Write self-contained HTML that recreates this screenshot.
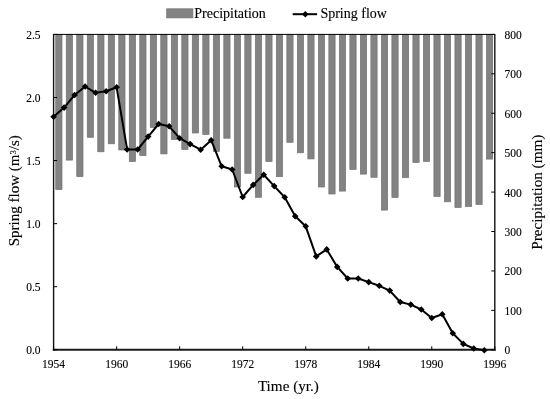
<!DOCTYPE html><html><head><meta charset="utf-8"><style>html,body{margin:0;padding:0;background:#fff;}svg{display:block;}text{font-family:"Liberation Serif","Times New Roman",serif;fill:#000;stroke:#000;stroke-width:0.12px;}</style></head><body>
<svg width="550" height="399" viewBox="0 0 550 399">
<rect x="0" y="0" width="550" height="399" fill="#fff"/>
<rect x="55.73" y="34.40" width="6.25" height="155.20" fill="#838383" stroke="#727272" stroke-width="0.7"/>
<rect x="66.23" y="34.40" width="6.25" height="125.70" fill="#838383" stroke="#727272" stroke-width="0.7"/>
<rect x="76.74" y="34.40" width="6.25" height="142.20" fill="#838383" stroke="#727272" stroke-width="0.7"/>
<rect x="87.24" y="34.40" width="6.25" height="102.90" fill="#838383" stroke="#727272" stroke-width="0.7"/>
<rect x="97.75" y="34.40" width="6.25" height="117.40" fill="#838383" stroke="#727272" stroke-width="0.7"/>
<rect x="108.25" y="34.40" width="6.25" height="109.40" fill="#838383" stroke="#727272" stroke-width="0.7"/>
<rect x="118.76" y="34.40" width="6.25" height="115.60" fill="#838383" stroke="#727272" stroke-width="0.7"/>
<rect x="129.26" y="34.40" width="6.25" height="127.10" fill="#838383" stroke="#727272" stroke-width="0.7"/>
<rect x="139.77" y="34.40" width="6.25" height="121.20" fill="#838383" stroke="#727272" stroke-width="0.7"/>
<rect x="150.27" y="34.40" width="6.25" height="93.10" fill="#838383" stroke="#727272" stroke-width="0.7"/>
<rect x="160.78" y="34.40" width="6.25" height="119.50" fill="#838383" stroke="#727272" stroke-width="0.7"/>
<rect x="171.28" y="34.40" width="6.25" height="105.00" fill="#838383" stroke="#727272" stroke-width="0.7"/>
<rect x="181.78" y="34.40" width="6.25" height="115.10" fill="#838383" stroke="#727272" stroke-width="0.7"/>
<rect x="192.29" y="34.40" width="6.25" height="98.60" fill="#838383" stroke="#727272" stroke-width="0.7"/>
<rect x="202.79" y="34.40" width="6.25" height="100.00" fill="#838383" stroke="#727272" stroke-width="0.7"/>
<rect x="213.30" y="34.40" width="6.25" height="117.00" fill="#838383" stroke="#727272" stroke-width="0.7"/>
<rect x="223.80" y="34.40" width="6.25" height="103.80" fill="#838383" stroke="#727272" stroke-width="0.7"/>
<rect x="234.31" y="34.40" width="6.25" height="152.60" fill="#838383" stroke="#727272" stroke-width="0.7"/>
<rect x="244.81" y="34.40" width="6.25" height="138.90" fill="#838383" stroke="#727272" stroke-width="0.7"/>
<rect x="255.32" y="34.40" width="6.25" height="162.90" fill="#838383" stroke="#727272" stroke-width="0.7"/>
<rect x="265.82" y="34.40" width="6.25" height="127.20" fill="#838383" stroke="#727272" stroke-width="0.7"/>
<rect x="276.33" y="34.40" width="6.25" height="142.30" fill="#838383" stroke="#727272" stroke-width="0.7"/>
<rect x="286.83" y="34.40" width="6.25" height="107.90" fill="#838383" stroke="#727272" stroke-width="0.7"/>
<rect x="297.34" y="34.40" width="6.25" height="118.40" fill="#838383" stroke="#727272" stroke-width="0.7"/>
<rect x="307.84" y="34.40" width="6.25" height="124.50" fill="#838383" stroke="#727272" stroke-width="0.7"/>
<rect x="318.35" y="34.40" width="6.25" height="152.60" fill="#838383" stroke="#727272" stroke-width="0.7"/>
<rect x="328.85" y="34.40" width="6.25" height="159.60" fill="#838383" stroke="#727272" stroke-width="0.7"/>
<rect x="339.36" y="34.40" width="6.25" height="156.70" fill="#838383" stroke="#727272" stroke-width="0.7"/>
<rect x="349.86" y="34.40" width="6.25" height="135.10" fill="#838383" stroke="#727272" stroke-width="0.7"/>
<rect x="360.37" y="34.40" width="6.25" height="139.70" fill="#838383" stroke="#727272" stroke-width="0.7"/>
<rect x="370.87" y="34.40" width="6.25" height="142.90" fill="#838383" stroke="#727272" stroke-width="0.7"/>
<rect x="381.38" y="34.40" width="6.25" height="175.70" fill="#838383" stroke="#727272" stroke-width="0.7"/>
<rect x="391.88" y="34.40" width="6.25" height="163.10" fill="#838383" stroke="#727272" stroke-width="0.7"/>
<rect x="402.38" y="34.40" width="6.25" height="143.30" fill="#838383" stroke="#727272" stroke-width="0.7"/>
<rect x="412.89" y="34.40" width="6.25" height="128.00" fill="#838383" stroke="#727272" stroke-width="0.7"/>
<rect x="423.39" y="34.40" width="6.25" height="127.00" fill="#838383" stroke="#727272" stroke-width="0.7"/>
<rect x="433.90" y="34.40" width="6.25" height="162.10" fill="#838383" stroke="#727272" stroke-width="0.7"/>
<rect x="444.40" y="34.40" width="6.25" height="167.40" fill="#838383" stroke="#727272" stroke-width="0.7"/>
<rect x="454.91" y="34.40" width="6.25" height="173.10" fill="#838383" stroke="#727272" stroke-width="0.7"/>
<rect x="465.41" y="34.40" width="6.25" height="172.10" fill="#838383" stroke="#727272" stroke-width="0.7"/>
<rect x="475.92" y="34.40" width="6.25" height="170.00" fill="#838383" stroke="#727272" stroke-width="0.7"/>
<rect x="486.42" y="34.40" width="6.25" height="124.70" fill="#838383" stroke="#727272" stroke-width="0.7"/>
<line x1="53.6" y1="34.4" x2="494.8" y2="34.4" stroke="#000" stroke-width="1"/>
<line x1="53.6" y1="33.9" x2="53.6" y2="350.7" stroke="#111" stroke-width="1.4"/>
<line x1="494.8" y1="33.9" x2="494.8" y2="350.7" stroke="#111" stroke-width="1.4"/>
<line x1="52.85" y1="349.8" x2="495.55" y2="349.8" stroke="#1a1a1a" stroke-width="2"/>
<line x1="53.6" y1="349.80" x2="57.1" y2="349.80" stroke="#000" stroke-width="1"/>
<text x="40.6" y="354.00" font-size="11.5" text-anchor="end">0.0</text>
<line x1="53.6" y1="286.72" x2="57.1" y2="286.72" stroke="#000" stroke-width="1"/>
<text x="40.6" y="290.92" font-size="11.5" text-anchor="end">0.5</text>
<line x1="53.6" y1="223.64" x2="57.1" y2="223.64" stroke="#000" stroke-width="1"/>
<text x="40.6" y="227.84" font-size="11.5" text-anchor="end">1.0</text>
<line x1="53.6" y1="160.56" x2="57.1" y2="160.56" stroke="#000" stroke-width="1"/>
<text x="40.6" y="164.76" font-size="11.5" text-anchor="end">1.5</text>
<line x1="53.6" y1="97.48" x2="57.1" y2="97.48" stroke="#000" stroke-width="1"/>
<text x="40.6" y="101.68" font-size="11.5" text-anchor="end">2.0</text>
<line x1="53.6" y1="34.40" x2="57.1" y2="34.40" stroke="#000" stroke-width="1"/>
<text x="40.6" y="38.60" font-size="11.5" text-anchor="end">2.5</text>
<line x1="491.3" y1="349.80" x2="494.8" y2="349.80" stroke="#000" stroke-width="1"/>
<text x="504.5" y="354.30" font-size="11.5">0</text>
<line x1="491.3" y1="310.38" x2="494.8" y2="310.38" stroke="#000" stroke-width="1"/>
<text x="504.5" y="314.88" font-size="11.5">100</text>
<line x1="491.3" y1="270.95" x2="494.8" y2="270.95" stroke="#000" stroke-width="1"/>
<text x="504.5" y="275.45" font-size="11.5">200</text>
<line x1="491.3" y1="231.53" x2="494.8" y2="231.53" stroke="#000" stroke-width="1"/>
<text x="504.5" y="236.03" font-size="11.5">300</text>
<line x1="491.3" y1="192.10" x2="494.8" y2="192.10" stroke="#000" stroke-width="1"/>
<text x="504.5" y="196.60" font-size="11.5">400</text>
<line x1="491.3" y1="152.67" x2="494.8" y2="152.67" stroke="#000" stroke-width="1"/>
<text x="504.5" y="157.17" font-size="11.5">500</text>
<line x1="491.3" y1="113.25" x2="494.8" y2="113.25" stroke="#000" stroke-width="1"/>
<text x="504.5" y="117.75" font-size="11.5">600</text>
<line x1="491.3" y1="73.82" x2="494.8" y2="73.82" stroke="#000" stroke-width="1"/>
<text x="504.5" y="78.32" font-size="11.5">700</text>
<line x1="491.3" y1="34.40" x2="494.8" y2="34.40" stroke="#000" stroke-width="1"/>
<text x="504.5" y="38.90" font-size="11.5">800</text>
<line x1="53.60" y1="346.3" x2="53.60" y2="349.8" stroke="#000" stroke-width="1"/>
<text x="53.60" y="368.1" font-size="11.5" text-anchor="middle">1954</text>
<line x1="116.63" y1="346.3" x2="116.63" y2="349.8" stroke="#000" stroke-width="1"/>
<text x="116.63" y="368.1" font-size="11.5" text-anchor="middle">1960</text>
<line x1="179.66" y1="346.3" x2="179.66" y2="349.8" stroke="#000" stroke-width="1"/>
<text x="179.66" y="368.1" font-size="11.5" text-anchor="middle">1966</text>
<line x1="242.69" y1="346.3" x2="242.69" y2="349.8" stroke="#000" stroke-width="1"/>
<text x="242.69" y="368.1" font-size="11.5" text-anchor="middle">1972</text>
<line x1="305.71" y1="346.3" x2="305.71" y2="349.8" stroke="#000" stroke-width="1"/>
<text x="305.71" y="368.1" font-size="11.5" text-anchor="middle">1978</text>
<line x1="368.74" y1="346.3" x2="368.74" y2="349.8" stroke="#000" stroke-width="1"/>
<text x="368.74" y="368.1" font-size="11.5" text-anchor="middle">1984</text>
<line x1="431.77" y1="346.3" x2="431.77" y2="349.8" stroke="#000" stroke-width="1"/>
<text x="431.77" y="368.1" font-size="11.5" text-anchor="middle">1990</text>
<line x1="494.80" y1="346.3" x2="494.80" y2="349.8" stroke="#000" stroke-width="1"/>
<text x="494.80" y="368.1" font-size="11.5" text-anchor="middle">1996</text>
<polyline points="53.60,116.70 64.10,107.60 74.61,95.00 85.11,86.50 95.62,92.80 106.12,91.30 116.63,87.30 127.13,149.50 137.64,149.50 148.14,136.60 158.65,124.00 169.15,126.30 179.66,138.20 190.16,144.10 200.67,149.70 211.17,140.20 221.68,166.30 232.18,169.50 242.69,197.00 253.19,184.90 263.70,174.70 274.20,186.10 284.70,197.30 295.21,216.30 305.71,226.30 316.22,256.40 326.72,249.40 337.23,266.90 347.73,278.50 358.24,278.50 368.74,282.10 379.25,285.80 389.75,290.60 400.26,302.00 410.76,304.60 421.27,309.50 431.77,318.00 442.28,314.20 452.78,333.30 463.29,343.90 473.79,348.50 484.30,350.30" fill="none" stroke="#000" stroke-width="2" stroke-linejoin="round"/>
<path d="M53.60,113.40 L56.90,116.70 L53.60,120.00 L50.30,116.70 Z" fill="#000"/>
<path d="M64.10,104.30 L67.40,107.60 L64.10,110.90 L60.80,107.60 Z" fill="#000"/>
<path d="M74.61,91.70 L77.91,95.00 L74.61,98.30 L71.31,95.00 Z" fill="#000"/>
<path d="M85.11,83.20 L88.41,86.50 L85.11,89.80 L81.81,86.50 Z" fill="#000"/>
<path d="M95.62,89.50 L98.92,92.80 L95.62,96.10 L92.32,92.80 Z" fill="#000"/>
<path d="M106.12,88.00 L109.42,91.30 L106.12,94.60 L102.82,91.30 Z" fill="#000"/>
<path d="M116.63,84.00 L119.93,87.30 L116.63,90.60 L113.33,87.30 Z" fill="#000"/>
<path d="M127.13,146.20 L130.43,149.50 L127.13,152.80 L123.83,149.50 Z" fill="#000"/>
<path d="M137.64,146.20 L140.94,149.50 L137.64,152.80 L134.34,149.50 Z" fill="#000"/>
<path d="M148.14,133.30 L151.44,136.60 L148.14,139.90 L144.84,136.60 Z" fill="#000"/>
<path d="M158.65,120.70 L161.95,124.00 L158.65,127.30 L155.35,124.00 Z" fill="#000"/>
<path d="M169.15,123.00 L172.45,126.30 L169.15,129.60 L165.85,126.30 Z" fill="#000"/>
<path d="M179.66,134.90 L182.96,138.20 L179.66,141.50 L176.36,138.20 Z" fill="#000"/>
<path d="M190.16,140.80 L193.46,144.10 L190.16,147.40 L186.86,144.10 Z" fill="#000"/>
<path d="M200.67,146.40 L203.97,149.70 L200.67,153.00 L197.37,149.70 Z" fill="#000"/>
<path d="M211.17,136.90 L214.47,140.20 L211.17,143.50 L207.87,140.20 Z" fill="#000"/>
<path d="M221.68,163.00 L224.98,166.30 L221.68,169.60 L218.38,166.30 Z" fill="#000"/>
<path d="M232.18,166.20 L235.48,169.50 L232.18,172.80 L228.88,169.50 Z" fill="#000"/>
<path d="M242.69,193.70 L245.99,197.00 L242.69,200.30 L239.39,197.00 Z" fill="#000"/>
<path d="M253.19,181.60 L256.49,184.90 L253.19,188.20 L249.89,184.90 Z" fill="#000"/>
<path d="M263.70,171.40 L267.00,174.70 L263.70,178.00 L260.40,174.70 Z" fill="#000"/>
<path d="M274.20,182.80 L277.50,186.10 L274.20,189.40 L270.90,186.10 Z" fill="#000"/>
<path d="M284.70,194.00 L288.00,197.30 L284.70,200.60 L281.40,197.30 Z" fill="#000"/>
<path d="M295.21,213.00 L298.51,216.30 L295.21,219.60 L291.91,216.30 Z" fill="#000"/>
<path d="M305.71,223.00 L309.01,226.30 L305.71,229.60 L302.41,226.30 Z" fill="#000"/>
<path d="M316.22,253.10 L319.52,256.40 L316.22,259.70 L312.92,256.40 Z" fill="#000"/>
<path d="M326.72,246.10 L330.02,249.40 L326.72,252.70 L323.42,249.40 Z" fill="#000"/>
<path d="M337.23,263.60 L340.53,266.90 L337.23,270.20 L333.93,266.90 Z" fill="#000"/>
<path d="M347.73,275.20 L351.03,278.50 L347.73,281.80 L344.43,278.50 Z" fill="#000"/>
<path d="M358.24,275.20 L361.54,278.50 L358.24,281.80 L354.94,278.50 Z" fill="#000"/>
<path d="M368.74,278.80 L372.04,282.10 L368.74,285.40 L365.44,282.10 Z" fill="#000"/>
<path d="M379.25,282.50 L382.55,285.80 L379.25,289.10 L375.95,285.80 Z" fill="#000"/>
<path d="M389.75,287.30 L393.05,290.60 L389.75,293.90 L386.45,290.60 Z" fill="#000"/>
<path d="M400.26,298.70 L403.56,302.00 L400.26,305.30 L396.96,302.00 Z" fill="#000"/>
<path d="M410.76,301.30 L414.06,304.60 L410.76,307.90 L407.46,304.60 Z" fill="#000"/>
<path d="M421.27,306.20 L424.57,309.50 L421.27,312.80 L417.97,309.50 Z" fill="#000"/>
<path d="M431.77,314.70 L435.07,318.00 L431.77,321.30 L428.47,318.00 Z" fill="#000"/>
<path d="M442.28,310.90 L445.58,314.20 L442.28,317.50 L438.98,314.20 Z" fill="#000"/>
<path d="M452.78,330.00 L456.08,333.30 L452.78,336.60 L449.48,333.30 Z" fill="#000"/>
<path d="M463.29,340.60 L466.59,343.90 L463.29,347.20 L459.99,343.90 Z" fill="#000"/>
<path d="M473.79,345.20 L477.09,348.50 L473.79,351.80 L470.49,348.50 Z" fill="#000"/>
<path d="M484.30,347.00 L487.60,350.30 L484.30,353.60 L481.00,350.30 Z" fill="#000"/>
<text x="288.4" y="391.4" font-size="15.2" text-anchor="middle">Time (yr.)</text>
<text transform="translate(19.3,190.7) rotate(-90)" font-size="15" text-anchor="middle">Spring flow (m<tspan font-size="8.8" dy="-3.8">3</tspan><tspan dy="3.8">/s)</tspan></text>
<text transform="translate(541.9,192.2) rotate(-90)" font-size="15.2" text-anchor="middle">Precipitation (mm)</text>
<rect x="166.7" y="8.8" width="26.2" height="9.1" fill="#838383" stroke="#727272" stroke-width="0.7"/>
<text x="194.3" y="17.9" font-size="14">Precipitation</text>
<line x1="292.7" y1="14.2" x2="317.1" y2="14.2" stroke="#000" stroke-width="2"/>
<path d="M305.3,10.899999999999999 L308.6,14.2 L305.3,17.5 L302.0,14.2 Z" fill="#000"/>
<text x="320.4" y="17.9" font-size="14">Spring flow</text>
</svg></body></html>
